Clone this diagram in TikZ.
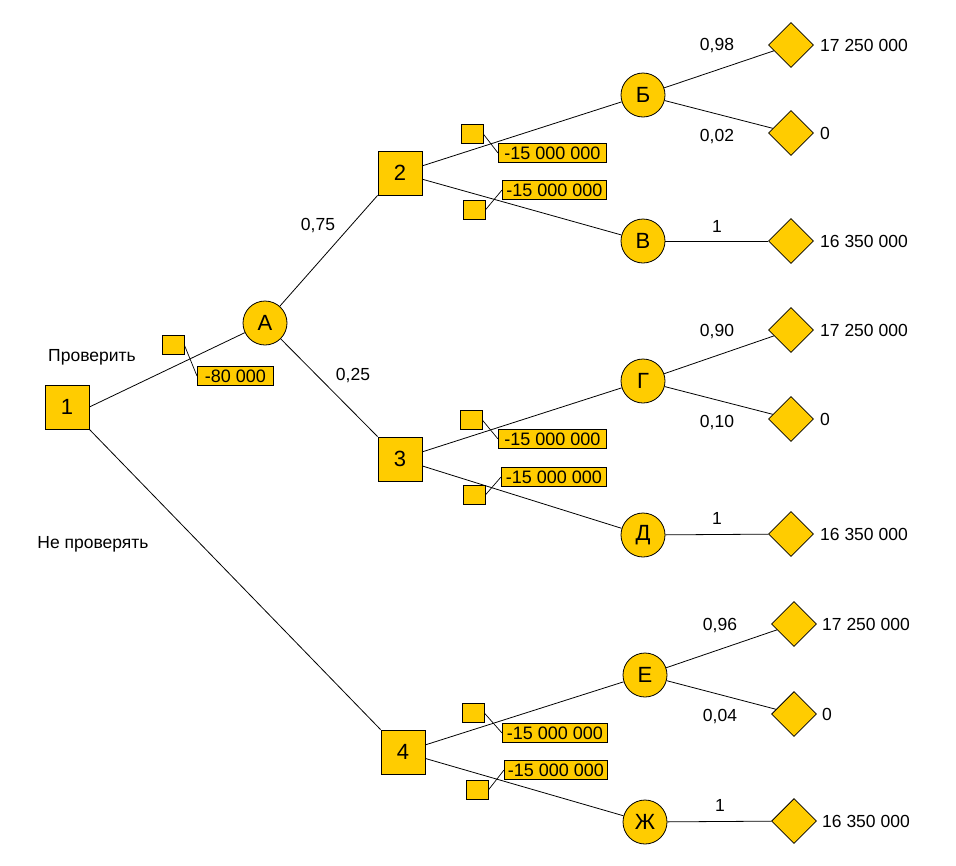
\documentclass[tikz,border=0pt]{standalone}
\usepackage{fontspec}
\setmainfont{Liberation Sans}
\usetikzlibrary{shapes.geometric}
\definecolor{gold}{HTML}{FFCC00}
\begin{document}
\begin{tikzpicture}[x=1pt,y=-1pt,
 every node/.style={font=\fontsize{17.5}{20}\selectfont},
 dec/.style={draw=black, fill=gold, minimum size=44pt, inner sep=0pt, line width=0.8pt, font=\fontsize{22}{24}\selectfont},
 chance/.style={circle, draw=black, fill=gold, minimum size=44pt, inner sep=0pt, line width=0.8pt, font=\fontsize{22}{24}\selectfont},
 term/.style={diamond, draw=black, fill=gold, minimum width=45pt, minimum height=45pt, inner sep=0pt, line width=0.8pt},
 cost/.style={draw=black, fill=gold, minimum width=22pt, minimum height=19pt, inner sep=0pt, line width=0.7pt},
 costlbl/.style={draw=black, fill=gold, minimum height=19pt, inner sep=0pt, anchor=west, line width=0.7pt, font=\fontsize{18}{19}\selectfont},
 val/.style={anchor=west, inner sep=0pt},
 prob/.style={inner sep=0pt},
 edge/.style={line width=0.8pt}]
\useasboundingbox (0,0) rectangle (956,865);

% decision nodes
\node[dec] (n1) at (67,407) {1};
\node[dec] (n2) at (400,173) {2};
\node[dec] (n3) at (400,459) {3};
\node[dec] (n4) at (403,752) {4};

% chance nodes
\node[chance] (A) at (265,323) {А};
\node[chance] (B) at (643,95) {Б};
\node[chance] (V) at (643,241) {В};
\node[chance] (G) at (643,381) {Г};
\node[chance] (D) at (643,535) {Д};
\node[chance] (E) at (645,675) {Е};
\node[chance] (Zh) at (645,822) {Ж};

% terminal nodes
\node[term] (t1) at (791,45) {};
\node[term] (t2) at (791,133) {};
\node[term] (t3) at (791,241) {};
\node[term] (t4) at (791,330) {};
\node[term] (t5) at (791,419) {};
\node[term] (t6) at (791,534) {};
\node[term] (t7) at (794,624) {};
\node[term] (t8) at (794,714) {};
\node[term] (t9) at (794,821) {};

% edges
\draw[edge] (n1.east) -- (A);
\draw[edge] (n1.south east) -- (n4.north west);
\draw[edge] (A) -- (n2.south west);
\draw[edge] (A) -- (n3.north west);
\draw[edge] (n2) -- (B);
\draw[edge] (n2) -- (V);
\draw[edge] (n3) -- (G);
\draw[edge] (n3) -- (D);
\draw[edge] (n4) -- (E);
\draw[edge] (n4) -- (Zh);
\draw[edge] (B) -- (t1);
\draw[edge] (B) -- (t2);
\draw[edge] (V) -- (t3);
\draw[edge] (G) -- (t4);
\draw[edge] (G) -- (t5);
\draw[edge] (D) -- (t6);
\draw[edge] (E) -- (t7);
\draw[edge] (E) -- (t8);
\draw[edge] (Zh) -- (t9);

% cost markers
\node[cost] (c0) at (173,345) {};
\node[costlbl, minimum width=76pt] (l0) at (197,376) {-80 000};
\node[cost] (c1) at (472,134) {};
\node[costlbl, minimum width=108pt] (l1) at (498,153) {-15 000 000};
\node[cost] (c2) at (474,210) {};
\node[costlbl, minimum width=104pt] (l2) at (502,190) {-15 000 000};
\node[cost] (c3) at (471,420) {};
\node[costlbl, minimum width=108pt] (l3) at (498,439) {-15 000 000};
\node[cost] (c4) at (474,495) {};
\node[costlbl, minimum width=105pt] (l4) at (501,477) {-15 000 000};
\node[cost] (c5) at (473,713) {};
\node[costlbl, minimum width=105pt] (l5) at (502,733) {-15 000 000};
\node[cost] (c6) at (477,790) {};
\node[costlbl, minimum width=103pt] (l6) at (504,770) {-15 000 000};
\foreach \i in {0,...,6} \draw[line width=0.7pt] (c\i.east) -- (l\i.west);

% probabilities
\node[prob] at (318,226) {0,75};
\node[prob] at (353,376) {0,25};
\node[prob] at (717,46) {0,98};
\node[prob] at (717,137) {0,02};
\node[prob] at (717,226) {1};
\node[prob] at (717,332) {0,90};
\node[prob] at (717,423) {0,10};
\node[prob] at (717,518) {1};
\node[prob] at (720,626) {0,96};
\node[prob] at (720,716) {0,04};
\node[prob] at (720,805) {1};

% branch labels
\node[prob] at (92,357) {Проверить};
\node[prob] at (93,544) {Не проверять};

% values
\node[val] at (820,45) {17 250 000};
\node[val] at (820,133) {0};
\node[val] at (820,241) {16 350 000};
\node[val] at (820,330) {17 250 000};
\node[val] at (820,419) {0};
\node[val] at (820,534) {16 350 000};
\node[val] at (822,624) {17 250 000};
\node[val] at (822,714) {0};
\node[val] at (822,821) {16 350 000};
\end{tikzpicture}
\end{document}
